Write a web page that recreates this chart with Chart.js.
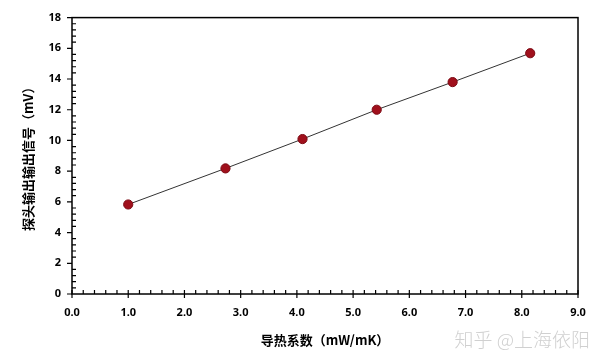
<!DOCTYPE html>
<html>
<head>
<meta charset="utf-8">
<script src="https://cdn.jsdelivr.net/npm/chart.js@4/dist/chart.umd.min.js"></script>
<style>
  html, body { margin: 0; padding: 0; background: #fff; }
  #wrap { width: 600px; height: 363px; }
</style>
</head>
<body>
<div id="wrap"><canvas id="chart"></canvas></div>
<script>
  // 导热系数 (mW/mK) vs 探头输出信号 (mV)
  const conductivity = [1.0, 2.73, 4.1, 5.42, 6.77, 8.15]
  const signal = [5.83, 8.18, 10.09, 12.0, 13.8, 15.68]

  const xTitle = '导热系数（mW/mK）'
  const yTitle = '探头输出输出信号（mV）'
  const watermark = '知乎 @上海依阳'

  const tickFont = { family: '"Noto Sans", "Liberation Sans", sans-serif', size: 11, weight: 'bold' }
  const titleFont = { family: '"Noto Sans CJK SC", sans-serif', size: 13, weight: 'bold' }

  // frame + major/minor tick marks, placed through the scales
  const frameTicks = {
    id: 'frameTicks',
    afterDraw (chart) {
      const { ctx, chartArea: a, scales: { x, y } } = chart
      ctx.save()
      ctx.strokeStyle = '#000'
      ctx.lineWidth = 1.5
      ctx.strokeRect(a.left, a.top, a.right - a.left, a.bottom - a.top)

      ctx.lineWidth = 1.2
      ctx.beginPath()
      for (let i = 0; i <= 45; i++) {
        const px = x.getPixelForValue(i * 0.2)
        if (i % 5 === 0) {
          ctx.moveTo(px, a.bottom - 4); ctx.lineTo(px, a.bottom + 4)
        } else {
          ctx.moveTo(px, a.bottom); ctx.lineTo(px, a.bottom - 4)
        }
      }
      for (let i = 0; i <= 45; i++) {
        const py = y.getPixelForValue(i * 0.4)
        if (i % 5 === 0) {
          ctx.moveTo(a.left - 5, py); ctx.lineTo(a.left, py)
        } else {
          ctx.moveTo(a.left, py); ctx.lineTo(a.left + 4, py)
        }
      }
      ctx.stroke()

      ctx.font = '300 19px "Noto Sans CJK SC", sans-serif'
      ctx.textAlign = 'right'
      ctx.textBaseline = 'middle'
      ctx.fillStyle = '#d0d0d0'
      ctx.fillText(watermark, 590, 340)
      ctx.restore()
    }
  }

  /* eslint-disable no-new */
  new Chart(document.getElementById('chart'), {
    type: 'scatter',
    data: {
      datasets: [{
        data: conductivity.map((c, i) => ({ x: c, y: signal[i] })),
        showLine: true,
        borderColor: '#333',
        borderWidth: 1,
        pointRadius: 4.6,
        pointHoverRadius: 4.6,
        pointBackgroundColor: '#a0101c',
        pointBorderColor: '#7c0a14',
        pointBorderWidth: 1
      }]
    },
    options: {
      responsive: true,
      maintainAspectRatio: false,
      animation: false,
      layout: { padding: { top: 14, right: 22, left: 0, bottom: 0 } },
      plugins: { legend: { display: false }, tooltip: { enabled: false } },
      scales: {
        x: {
          type: 'linear',
          min: 0,
          max: 9,
          grid: { display: false, drawTicks: false },
          border: { display: false },
          ticks: {
            stepSize: 1,
            padding: 12,
            color: '#000',
            font: tickFont,
            callback: v => v.toFixed(1)
          },
          title: { display: true, text: xTitle, color: '#000', font: titleFont, padding: { top: 0, bottom: 15 } },
          afterFit (scale) { scale.height = 69 }
        },
        y: {
          min: 0,
          max: 18,
          grid: { display: false, drawTicks: false },
          border: { display: false },
          ticks: { stepSize: 2, padding: 11, color: '#000', font: tickFont },
          title: { display: true, text: yTitle, color: '#000', font: titleFont, padding: { top: 20, bottom: 0 } },
          afterFit (scale) { scale.width = 72 }
        }
      }
    },
    plugins: [frameTicks]
  })
</script>
</body>
</html>
